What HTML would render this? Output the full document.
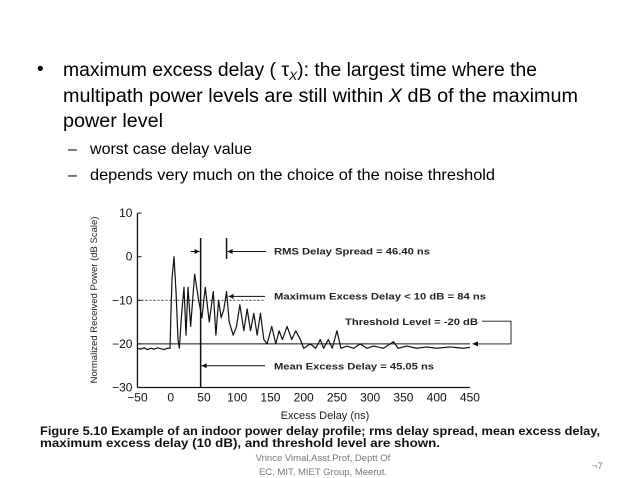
<!DOCTYPE html>
<html><head><meta charset="utf-8"><style>
html,body{margin:0;padding:0;background:#fff;width:638px;height:478px;overflow:hidden}
svg{display:block}
.b{font-family:"Liberation Sans",sans-serif;fill:#000}
.c{font-family:"Liberation Sans",sans-serif;fill:#111}
</style></head><body>
<svg id="s" width="638" height="478" viewBox="0 0 638 478">
<g class="b">
<text x="37" y="75" font-size="19">•</text>
<text x="63" y="76" font-size="19" textLength="474" lengthAdjust="spacingAndGlyphs">maximum excess delay ( τ<tspan font-size="12" dy="4" font-style="italic">X</tspan><tspan dy="-4">): the largest time where the</tspan></text>
<text x="63" y="102" font-size="19" textLength="515" lengthAdjust="spacingAndGlyphs">multipath power levels are still within <tspan font-style="italic">X</tspan> dB of the maximum</text>
<text x="63" y="127" font-size="19" textLength="100" lengthAdjust="spacingAndGlyphs">power level</text>
<text x="68" y="154" font-size="16">–</text>
<text x="90" y="154" font-size="16" textLength="162" lengthAdjust="spacingAndGlyphs">worst case delay value</text>
<text x="68" y="180" font-size="16">–</text>
<text x="90" y="180" font-size="16" textLength="405" lengthAdjust="spacingAndGlyphs">depends very much on the choice of the noise threshold</text>
</g>
<g id="chart"></g>
<g class="c">
<text x="40" y="435" font-size="11.5" font-weight="bold" textLength="560" lengthAdjust="spacingAndGlyphs">Figure 5.10    Example of an indoor power delay profile; rms delay spread, mean excess delay,</text>
<text x="40" y="447" font-size="11.5" font-weight="bold" textLength="400" lengthAdjust="spacingAndGlyphs">maximum excess delay (10 dB), and threshold level are shown.</text>
</g>
<g font-family="Liberation Sans,sans-serif" fill="#777" font-size="9.5">
<text x="323" y="461" text-anchor="middle">Vrince Vimal,Asst.Prof, Deptt Of</text>
<text x="323" y="475" text-anchor="middle">EC, MIT, MIET Group, Meerut.</text>
<text x="592" y="469">¬7</text>
</g>
</svg>
<script>
const delays = [-50,-45,-40,-35,-30,-25,-20,-15,-10,-5,-1,0,2,5,8,11,13,16,20,23,26,30,36,42,47,52,58,64,68,72,76,80,84,88,94,99,104,110,115,120,125,130,135,140,145,152,158,163,168,175,182,188,195,200,205,210,218,225,230,237,243,250,256,265,275,285,295,305,320,335,342,355,370,385,400,420,440,450];
const powers = [-21,-21.2,-20.9,-21.3,-21,-21.2,-20.9,-21.1,-21.3,-21,-21,-15,-5,0,-8,-19,-21,-14,-7,-18,-7,-16,-4,-10,-14,-7,-15,-8,-18,-10,-14,-12,-8,-15,-18,-16,-11,-17,-12,-17,-13,-18,-13,-19,-20,-16,-20,-17,-19,-16,-19,-17,-19,-21,-20.5,-20,-21,-19,-21,-19,-21,-17,-21,-20.5,-21,-20,-21,-20.5,-21,-19.5,-21,-20.5,-21,-20.7,-21,-20.7,-21,-20.8];
const xTicks = [-50,0,50,100,150,200,250,300,350,400,450];
const yTicks = [10,0,-10,-20,-30];
const rmsDelay = [45, 84];
const meanExcess = 45;
const threshold = -20;
const maxExcessLevel = -10;

const NS='http://www.w3.org/2000/svg';
const g=document.getElementById('chart');
const X=v=>170.7+v*0.665;
const Y=v=>256.7-v*4.36;
function mk(t,a,txt){const e=document.createElementNS(NS,t);for(const k in a)e.setAttribute(k,a[k]);if(txt!==undefined)e.textContent=txt;g.appendChild(e);return e;}
const F='Liberation Sans,sans-serif';
let e;
e=mk('line',{x1:X(-50),y1:Y(10),x2:X(-50),y2:Y(-30),stroke:'#111','stroke-width':1.3});


e=mk('line',{x1:X(-50),y1:Y(-30),x2:X(450),y2:Y(-30),stroke:'#111','stroke-width':1.3});


xTicks.forEach(t=>{
 e=mk('text',{x:X(t),y:Y(-30)+14,'font-family':F,'font-size':12,'text-anchor':'middle',fill:'#111'},t<0?'−'+(-t):String(t));
 
 
});
yTicks.forEach(t=>{
 e=mk('line',{x1:X(-50),y1:Y(t),x2:X(-50)+4,y2:Y(t),stroke:'#111'});
 
 
 e=mk('text',{x:X(-50)-5,y:Y(t)+4,'font-family':F,'font-size':12,'text-anchor':'end',fill:'#111'},t<0?'−'+(-t):String(t));
 
 
});
e=mk('text',{x:325,y:419,'font-family':F,'font-size':11,'text-anchor':'middle',fill:'#222'},'Excess Delay (ns)');


e=mk('text',{x:0,y:0,'font-family':F,'font-size':9.5,'text-anchor':'middle',fill:'#222',transform:'translate(97,300) rotate(-90)'},'Normalized Received Power (dB Scale)');


e=mk('line',{x1:X(-50),y1:Y(threshold),x2:X(450),y2:Y(threshold),stroke:'#111','stroke-width':1});


e=mk('line',{x1:X(-50),y1:Y(maxExcessLevel),x2:X(140),y2:Y(maxExcessLevel),stroke:'#222','stroke-width':0.8,'stroke-dasharray':'2,2'});


e=mk('polyline',{points:delays.map((d,i)=>X(d)+','+Y(powers[i])).join(' '),fill:'none',stroke:'#111','stroke-width':1.2,'stroke-linejoin':'round'});


e=mk('line',{x1:X(meanExcess),y1:Y(4.3),x2:X(meanExcess),y2:Y(-30),stroke:'#111','stroke-width':1.5});


e=mk('line',{x1:X(rmsDelay[1]),y1:Y(4.3),x2:X(rmsDelay[1]),y2:Y(-0.5),stroke:'#111','stroke-width':1.5});


function arrow(x1,y,x2,name){
 e=mk('line',{x1:x1,y1:y,x2:x2,y2:y,stroke:'#111','stroke-width':1});
 
 
 const d=x2>x1?-5:5;
 e=mk('polygon',{points:`${x2},${y} ${x2+d},${y-2.5} ${x2+d},${y+2.5}`,fill:'#111'});
 
 
}
const yr=Y(1.2);
arrow(X(30),yr,X(rmsDelay[0])-1,'rms-arrow-left');
arrow(266,yr,X(rmsDelay[1])+1,'rms-arrow-right');
arrow(265,Y(-9.1),X(rmsDelay[1])+2,'max-excess-arrow');
arrow(265,Y(-25),X(meanExcess)+1,'mean-excess-arrow');
function lbl(x,y,t,name,w){e=mk('text',{x:x,y:y,'font-family':F,'font-size':9,'font-weight':'bold',fill:'#222',textLength:w,lengthAdjust:'spacingAndGlyphs'},t);}
lbl(274,yr+3,'RMS Delay Spread = 46.40 ns','rms-label',156);
lbl(274,Y(-9.1)+3,'Maximum Excess Delay < 10 dB = 84 ns','max-excess-label',212);
lbl(345,Y(-15)+3,'Threshold Level = -20 dB','threshold-label',133);
lbl(274,Y(-25)+4,'Mean Excess Delay = 45.05 ns','mean-excess-label',160);
e=mk('polyline',{points:`482,${Y(-14.8)} 511,${Y(-14.8)} 511,${Y(-20)} 475,${Y(-20)}`,fill:'none',stroke:'#111','stroke-width':0.9});


e=mk('polygon',{points:`472,${Y(-20)} 478,${Y(-20)-2.5} 478,${Y(-20)+2.5}`,fill:'#111'});


</script>
</body></html>
